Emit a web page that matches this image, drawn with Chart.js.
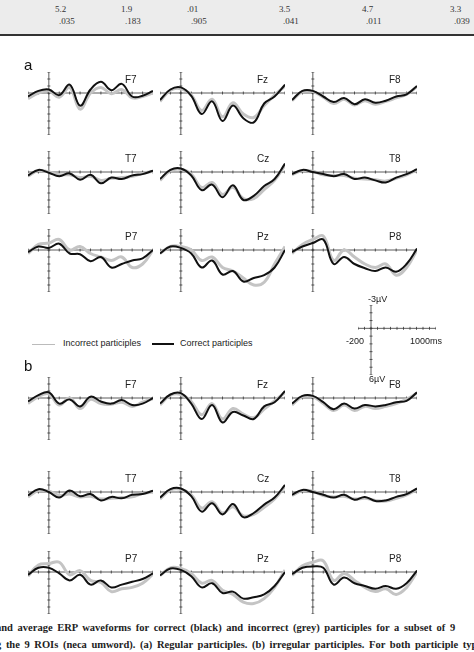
<!DOCTYPE html>
<html><head><meta charset="utf-8">
<script src="https://cdn.jsdelivr.net/npm/chart.js@4/dist/chart.umd.min.js"></script>
<style>
body{margin:0;width:474px;height:652px;background:#fff;position:relative;overflow:hidden;font-family:"Liberation Sans",Arial,sans-serif}
.abs{position:absolute}
.tbl{left:0;top:0;width:474px;height:34px;background:#ececec;border-bottom:2px solid #333}
.num{position:absolute;font-family:"Liberation Serif",serif;font-size:9px;color:#333}
.lab{position:absolute;font-size:10px;color:#222}
.pan{position:absolute;font-size:15px;color:#111}
canvas{display:block}
.cap{position:absolute;left:-4px;font-family:"Liberation Serif",serif;font-weight:bold;font-size:10.5px;white-space:nowrap;color:#222;word-spacing:2px}
</style></head><body>
<div class="abs tbl"></div>
<div id="root"></div>
<div class="pan" style="left:24px;top:56px">a</div>
<div class="pan" style="left:24px;top:357px">b</div>
<div class="cap" style="top:622px">and average ERP waveforms for correct (black) and incorrect (grey) participles for a subset of 9</div>
<div class="cap" style="top:639px">g the 9 ROIs (neca umword). (a) Regular participles. (b) irregular participles. For both participle types, i</div>
<script>
// table values
const tblTop = ['5.2', '1.9', '.01', '3.5', '4.7', '3.3'];
const tblBottom = ['.035', '.183', '.905', '.041', '.011', '.039'];
const tblX = [55, 121, 187, 279, 362, 450];

const times = [-200, -100, 0, 100, 200, 300, 400, 500, 600, 700, 800, 900, 1000];
const electrodes = ['F7', 'Fz', 'F8', 'T7', 'Cz', 'T8', 'P7', 'Pz', 'P8'];

// panel a (regular) - µV, negative plotted up
const aCorrect = [
  [0.5, -0.3, -0.5, 0.3, -1.2, 1.8, -0.5, -1.6, -0.4, -1.3, 0.5, 0.4, -0.3],
  [1.0, -0.5, -0.8, 0.4, 3.0, 1.2, 4.0, 1.8, 3.6, 4.2, 1.5, 0.5, -1.2],
  [1.0, -0.3, -0.3, 0.5, 1.3, 0.7, 1.6, 0.9, 1.4, 1.1, 0.5, 0.2, -1.0],
  [0.5, -0.3, 0.1, 0.6, 0.2, 1.1, 0.4, 1.6, 0.8, 1.0, 0.5, 0.3, -0.2],
  [1.0, -0.3, -0.5, 0.5, 2.6, 1.8, 3.6, 1.9, 4.0, 3.4, 2.0, 1.0, -1.2],
  [0.3, -0.3, 0.0, 0.3, 0.6, 0.3, 1.0, 0.8, 1.2, 1.5, 0.8, 0.3, -0.4],
  [0.3, -0.5, -0.3, -0.9, 0.5, 0.6, 1.6, 1.0, 2.5, 2.0, 1.5, 1.2, 0.0],
  [0.5, -0.5, -0.3, 0.5, 2.5, 1.5, 3.5, 3.0, 4.5, 4.0, 3.6, 2.5, 0.0],
  [0.3, -0.5, -1.0, -1.5, 2.0, 1.0, 2.0, 2.6, 3.0, 2.5, 3.1, 2.0, -0.2]
];
const aIncorrect = [
  [0.8, 0.0, -0.3, 0.6, -0.8, 2.3, 0.0, -0.8, 0.1, -0.5, 0.7, 0.5, 0.0],
  [1.2, -0.4, -0.6, 0.3, 2.5, 0.9, 3.4, 1.4, 3.0, 3.5, 1.8, 0.3, -1.0],
  [1.1, -0.2, -0.2, 0.6, 1.5, 0.9, 1.7, 1.1, 1.6, 1.2, 0.7, 0.2, -0.9],
  [0.6, -0.2, 0.0, 0.4, 0.4, 0.8, 0.6, 1.2, 0.9, 0.8, 0.6, 0.2, -0.1],
  [1.2, -0.2, -0.4, 0.3, 2.2, 1.5, 3.2, 2.2, 3.8, 3.8, 2.5, 1.2, -1.0],
  [0.4, -0.2, -0.1, 0.4, 0.5, 0.5, 0.9, 1.0, 1.1, 1.3, 0.9, 0.4, -0.3],
  [0.5, -0.8, -1.0, -1.5, 0.0, -0.5, 0.5, 1.0, 1.5, 1.0, 2.5, 2.0, 0.0],
  [0.5, -0.5, -0.5, 0.0, 1.5, 1.0, 2.5, 3.0, 4.0, 5.0, 4.6, 2.0, -0.5],
  [0.5, -0.8, -1.5, -2.0, 1.5, 0.0, 1.0, 2.0, 2.5, 2.0, 3.6, 2.5, 0.0]
];
// panel b (irregular)
const bCorrect = [
  [0.5, -0.4, -0.8, 0.8, 0.2, 1.2, -0.2, 0.5, 0.8, 0.3, 1.0, 0.8, 0.0],
  [0.8, -0.5, -0.7, 0.8, 3.0, 1.0, 3.5, 2.0, 2.5, 3.0, 1.2, 0.6, -1.0],
  [0.8, -0.3, -0.3, 0.6, 1.6, 0.8, 1.5, 1.0, 1.2, 1.0, 0.6, 0.4, -0.8],
  [0.5, -0.4, 0.0, 0.8, -0.2, 0.6, 0.3, 1.2, 0.7, 0.9, 0.4, 0.3, -0.2],
  [0.8, -0.4, -0.5, 0.6, 2.8, 1.6, 3.2, 1.7, 3.6, 3.0, 1.8, 0.8, -1.0],
  [0.4, -0.3, 0.0, 0.4, 0.8, 0.4, 1.1, 0.7, 1.3, 1.2, 0.7, 0.3, -0.5],
  [0.4, -0.6, -0.6, 0.2, 1.2, 0.4, 1.8, 1.2, 2.2, 1.8, 1.4, 1.0, 0.2],
  [0.5, -0.5, -0.3, 0.6, 2.2, 1.6, 3.0, 2.8, 3.8, 3.6, 3.2, 2.0, 0.0],
  [0.3, -0.6, -0.8, -0.6, 1.8, 0.8, 1.6, 2.0, 2.4, 2.0, 2.4, 1.6, -0.2]
];
const bIncorrect = [
  [0.8, -0.2, -0.6, 1.0, 0.0, 1.5, 0.2, 0.8, 0.9, 0.6, 1.2, 0.6, 0.1],
  [1.0, -0.4, -0.5, 0.5, 2.4, 0.8, 3.0, 1.5, 2.3, 2.8, 1.6, 0.4, -0.8],
  [1.0, -0.2, -0.2, 0.8, 1.8, 1.0, 1.8, 1.2, 1.5, 1.2, 0.8, 0.2, -0.7],
  [0.7, -0.2, -0.1, 0.5, 0.3, 0.7, 0.6, 1.0, 0.9, 0.8, 0.7, 0.2, 0.0],
  [1.0, -0.3, -0.4, 0.4, 2.3, 1.4, 3.0, 2.1, 3.4, 3.2, 2.2, 1.0, -0.8],
  [0.5, -0.2, -0.1, 0.5, 0.7, 0.6, 1.0, 0.9, 1.2, 1.3, 0.9, 0.4, -0.4],
  [0.6, -1.0, -1.2, -1.4, 0.4, -0.2, 1.2, 1.5, 2.8, 2.4, 2.2, 1.6, 0.3],
  [0.5, -0.6, -0.5, 0.2, 1.6, 1.2, 2.6, 3.2, 4.3, 4.5, 3.8, 2.2, -0.3],
  [0.5, -0.9, -1.4, -1.6, 1.2, 0.2, 1.2, 2.2, 2.8, 2.4, 3.2, 2.2, 0.0]
];
// scale bar
const scaleTimes = [-200, 1000];
const scaleLabels = ['-3µV', '-200', '1000ms', '6µV'];
const legendLabels = ['Incorrect participles', 'Correct participles'];

const root = document.getElementById('root');
function add(html) { root.insertAdjacentHTML('beforeend', html); }

tblTop.forEach((t, i) => {
  add(`<div class="num" style="left:${tblX[i]}px;top:4px">${t}</div>`);
  add(`<div class="num" style="left:${tblX[i] + 4}px;top:16px">${tblBottom[i]}</div>`);
});

const axesPlugin = {
  id: 'erpAxes',
  beforeDatasetsDraw(chart) {
    const { ctx, scales: { x, y } } = chart;
    const x0 = x.getPixelForValue(0), y0 = y.getPixelForValue(0);
    ctx.save();
    ctx.strokeStyle = '#333';
    ctx.lineWidth = 0.8;
    ctx.beginPath();
    ctx.moveTo(x.getPixelForValue(-200), y0); ctx.lineTo(x.getPixelForValue(1000), y0);
    ctx.moveTo(x0, y.getPixelForValue(-3)); ctx.lineTo(x0, y.getPixelForValue(6));
    for (let t = -200; t <= 1000; t += 100) {
      const px = x.getPixelForValue(t);
      ctx.moveTo(px, y0 - 1.5); ctx.lineTo(px, y0 + 1.5);
    }
    for (let v = -3; v <= 6; v++) {
      const py = y.getPixelForValue(v);
      ctx.moveTo(x0 - 1.5, py); ctx.lineTo(x0 + 1.5, py);
    }
    ctx.stroke();
    ctx.restore();
  }
};

function makeChart(left, top, w, h, sets) {
  const c = document.createElement('canvas');
  c.className = 'abs';
  c.style.left = left + 'px'; c.style.top = top + 'px';
  c.style.width = w + 'px'; c.style.height = h + 'px';
  c.width = w; c.height = h;
  root.appendChild(c);
  new Chart(c, {
    type: 'line',
    data: { datasets: sets },
    options: {
      responsive: false, animation: false,
      layout: { padding: 0 },
      plugins: { legend: { display: false }, tooltip: { enabled: false } },
      elements: { point: { radius: 0 }, line: { tension: 0.4 } },
      scales: {
        x: { type: 'linear', min: -200, max: 1000, display: false },
        y: { min: -3, max: 6, reverse: true, display: false }
      }
    },
    plugins: [axesPlugin]
  });
}

const colLeft = [28, 160, 292];
const rowZerosA = [93, 172, 250];
const rowZerosB = [398, 492, 572];
function panel(rowZeros, correct, incorrect) {
  electrodes.forEach((name, i) => {
    const left = colLeft[i % 3], top = rowZeros[Math.floor(i / 3)] - 21;
    makeChart(left, top, 125, 63, [
      { data: times.map((t, k) => ({ x: t, y: correct[i][k] })), borderColor: '#111', borderWidth: 2 },
      { data: times.map((t, k) => ({ x: t, y: incorrect[i][k] })), borderColor: '#c4c4c4', borderWidth: 3 }
    ]);
    add(`<div class="lab" style="left:${left + 97}px;top:${top + 2}px">${name}</div>`);
  });
}
panel(rowZerosA, aCorrect, aIncorrect);
panel(rowZerosB, bCorrect, bIncorrect);

// scale bar chart
makeChart(358, 305, 78, 70, [{ data: scaleTimes.map(t => ({ x: t, y: 0 })), borderWidth: 0 }]);
add(`<div class="lab" style="left:368px;top:294px;font-size:9px">${scaleLabels[0]}</div>`);
add(`<div class="lab" style="left:346px;top:336px;font-size:9px">${scaleLabels[1]}</div>`);
add(`<div class="lab" style="left:410px;top:336px;font-size:9px">${scaleLabels[2]}</div>`);
add(`<div class="lab" style="left:369px;top:374px;font-size:9px">${scaleLabels[3]}</div>`);

// legend
add(`<div class="abs" style="left:32px;top:344px;width:23px;height:1px;background:#bbb"></div>`);
add(`<div class="lab" style="left:63px;top:338px;font-size:9px">${legendLabels[0]}</div>`);
add(`<div class="abs" style="left:152px;top:343px;width:22px;height:2px;background:#111"></div>`);
add(`<div class="lab" style="left:180px;top:338px;font-size:9px">${legendLabels[1]}</div>`);
</script>
</body></html>
